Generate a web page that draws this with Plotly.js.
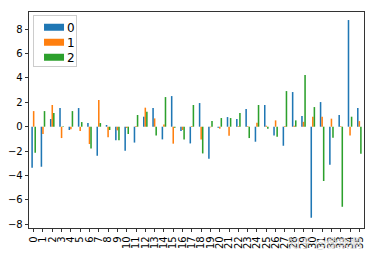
<!DOCTYPE html>
<html>
<head>
<meta charset="utf-8">
<script src="https://cdn.plot.ly/plotly-3.0.1.min.js"></script>
<style>html,body{margin:0;padding:0;background:#fff;}#chart{width:374px;height:255px;}</style>
</head>
<body>
<div id="chart"></div>
<script>
const categories = ['0','1','2','3','4','5','6','7','8','9','10','11','12','13','14','15','16','17','18','19','20','21','22','23','24','25','26','27','28','29','30','31','32','33','34','35'];
const seriesNames = ['0','1','2'];
const series0 = [-3.36,-3.28,0.63,1.53,-0.27,1.53,0.30,-2.38,0.14,-1.10,-1.97,-1.30,0.82,1.53,-1.04,2.51,-0.36,-1.37,1.94,-2.62,-0.08,0.79,0.63,1.45,-1.23,1.78,-0.71,-1.56,2.84,0.87,-7.46,2.02,-3.11,0.96,8.74,1.53];
const series1 = [1.28,-0.60,1.78,-0.93,-0.20,-0.36,-1.42,2.19,-0.87,-0.30,-0.10,0.05,1.56,0.68,0.19,-1.39,-0.27,0.05,-1.04,-0.05,-0.16,-0.74,0.05,0.05,0.33,0.08,0.52,0.05,0.08,0.40,0.82,0.82,0.66,0.05,-0.71,0.46];
const series2 = [-2.13,1.28,1.12,0.03,1.28,0.38,-1.78,0.30,-0.27,-1.10,-0.60,0.96,1.23,-0.72,2.43,-0.08,-1.04,1.78,-2.19,0.46,0.71,0.71,1.12,-0.93,1.78,-0.16,-0.82,2.92,0.52,4.23,1.61,-4.45,-0.90,-6.56,0.82,-2.21];
const yTicks = [-8,-6,-4,-2,0,2,4,6,8];
const colors = ['#1f77b4','#ff7f0e','#2ca02c'];
const watermark = '知乎 @像斯鹏';

const allSeries = [series0, series1, series2];
const traces = allSeries.map((vals, i) => ({
  type: 'bar',
  x: categories,
  y: vals,
  name: seriesNames[i],
  marker: {color: colors[i], line: {width: 0}}
}));

const font = {family: 'DejaVu Sans, sans-serif', size: 10, color: '#000'};
const layout = {
  width: 374, height: 255,
  margin: {l: 29, r: 10, t: 12, b: 27, pad: 0},
  paper_bgcolor: '#fff', plot_bgcolor: '#fff',
  barmode: 'group', bargap: 0.5, bargroupgap: 0,
  font: font,
  showlegend: true,
  legend: {
    x: 0.012, y: 0.985, xanchor: 'left', yanchor: 'top',
    bgcolor: 'rgba(255,255,255,0.8)', bordercolor: '#cccccc', borderwidth: 1,
    font: {family: 'DejaVu Sans, sans-serif', size: 12, color: '#000'},
    tracegroupgap: 0, itemwidth: 30
  },
  xaxis: {
    type: 'category', categoryorder: 'array', categoryarray: categories,
    tickmode: 'array', tickvals: categories, ticktext: categories,
    tickangle: -90, ticks: 'outside', ticklen: 3.5, tickwidth: 0.8, tickcolor: '#000',
    showline: true, linecolor: '#000', linewidth: 0.8, mirror: true,
    showgrid: false, zeroline: false, tickfont: {family: 'DejaVu Sans, sans-serif', size: 10, color: '#000'},
    range: [-0.5, categories.length - 0.5]
  },
  yaxis: {
    range: [-8.3, 9.4], tickvals: yTicks, ticks: 'outside', ticklen: 3.5, tickwidth: 0.8, tickcolor: '#000',
    showline: true, linecolor: '#000', linewidth: 0.8, mirror: true,
    showgrid: false, zeroline: false, tickfont: {family: 'DejaVu Sans, sans-serif', size: 10, color: '#000'}
  },
  annotations: [{
    text: watermark, xref: 'paper', yref: 'paper', x: 1.0, y: -0.02, xanchor: 'right', yanchor: 'top',
    showarrow: false, font: {family: 'Noto Sans CJK SC, sans-serif', size: 12, color: 'rgba(205,205,205,0.9)'}
  }]
};

Plotly.newPlot('chart', traces, layout, {staticPlot: true, displayModeBar: false}).then(() => {
  document.querySelectorAll('#chart .legendpoints path').forEach(p => {
    p.setAttribute('d', 'M-10,-3.5H10V3.5H-10Z');
  });
  document.querySelectorAll('#chart .legendtext').forEach(t => {
    t.setAttribute('x', '33');
  });
  document.querySelectorAll('#chart .legend .traces').forEach((g, i) => {
    g.setAttribute('transform', 'translate(1,' + (12 + 15 * i) + ')');
  });
  const bg = document.querySelector('#chart .legend .bg');
  if (bg) {
    bg.setAttribute('width', '43');
    bg.setAttribute('height', '51');
  }
});
</script>
</body>
</html>
